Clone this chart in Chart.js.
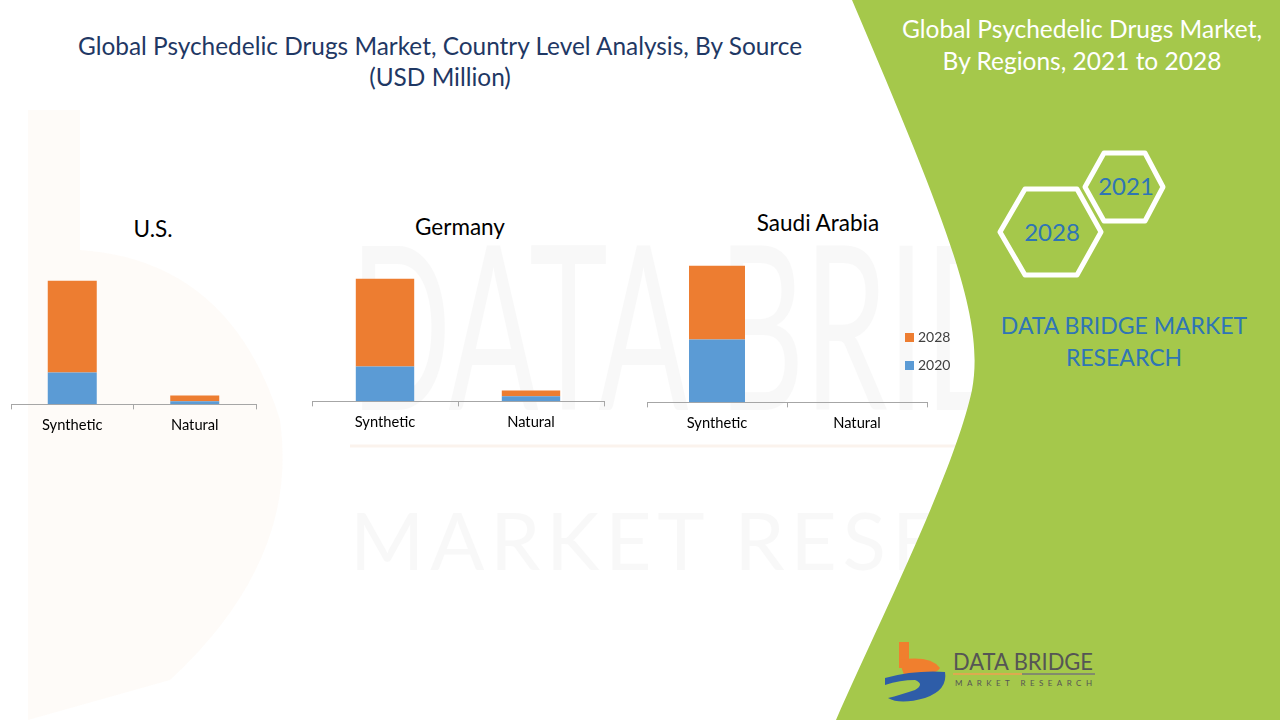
<!DOCTYPE html>
<html>
<head>
<meta charset="utf-8">
<script src="https://cdn.jsdelivr.net/npm/chart.js@4.4.1/dist/chart.umd.min.js"></script>
<style>
  html,body{margin:0;padding:0;}
  body{width:1280px;height:720px;position:relative;overflow:hidden;background:#fff;font-family:Lato,"Open Sans",sans-serif;}
  .abs{position:absolute;}
  .ctitle{position:absolute;font-size:22.5px;color:#000;transform:translate(-50%,-50%);white-space:nowrap;}
  canvas{position:absolute;}
</style>
</head>
<body>
<script>
// ---- data ----
const categories = ["Synthetic", "Natural"];
const seriesLabels = ["2020", "2028"];
const countries = ["U.S.", "Germany", "Saudi Arabia"];
const us2020 = [32, 3];
const us2028 = [92, 6];
const germany2020 = [35, 5];
const germany2028 = [88, 6];
const saudi2020 = [63, 0];
const saudi2028 = [74, 0];
</script>

<!-- background decoration -->
<svg class="abs" style="left:0;top:0" width="1280" height="720">
  <!-- faint watermark -->
  <g opacity="0.035">
    <path d="M28 110 L80 110 L80 250 Q230 260 280 420 Q300 560 170 680 L28 720 Z" fill="#f08030"/>
  </g>
  <g opacity="0.022" font-family="Lato" fill="#000">
    <text x="350" y="410" font-size="230" textLength="850" lengthAdjust="spacingAndGlyphs">DATA BRIDGE</text>
    <text x="350" y="570" font-size="80" textLength="830" lengthAdjust="spacing">MARKET RESEARCH</text>
  </g>
  <line x1="350" y1="446" x2="1210" y2="446" stroke="#f0c8a8" stroke-width="3" opacity="0.2"/>
  <!-- green panel -->
  <path d="M852 0 L1280 0 L1280 720 L836 720 C880 620 955 470 972 390 C985 320 950 230 852 0 Z" fill="#a5c84b"/>
  <!-- hexagons -->
  <polygon points="1000,232 1025,189 1077,189 1101,232 1077,275 1025,275" fill="none" stroke="#fff" stroke-width="5" stroke-linejoin="round"/>
  <polygon points="1085,187 1104,153 1145,153 1163,187 1145,221 1104,221" fill="none" stroke="#fff" stroke-width="5" stroke-linejoin="round"/>
  <text x="1052" y="241" font-family="Lato" font-size="24" fill="#2f75b5" text-anchor="middle">2028</text>
  <text x="1126" y="195" font-family="Lato" font-size="24" fill="#2f75b5" text-anchor="middle">2021</text>
  <text x="1124" y="334" font-family="Lato" font-size="23" fill="#2f75b5" text-anchor="middle">DATA BRIDGE MARKET</text>
  <text x="1124" y="366" font-family="Lato" font-size="23" fill="#2f75b5" text-anchor="middle">RESEARCH</text>
  <text x="1082" y="38" font-family="Lato" font-size="24.5" fill="#fff" text-anchor="middle">Global Psychedelic Drugs Market,</text>
  <text x="1082" y="70" font-family="Lato" font-size="24.5" fill="#fff" text-anchor="middle">By Regions, 2021 to 2028</text>
  <!-- logo -->
  <rect x="899" y="642" width="10" height="26" fill="#f07f2e"/>
  <path d="M899 660 Q930 655 940 668 Q935 676 905 678 Z" fill="#f07f2e"/>
  <path d="M885 678 Q915 670 945 672 Q948 690 925 698 Q900 705 888 698 Q900 695 915 690 Q925 684 915 680 Q900 680 885 685 Z" fill="#2e5da8"/>
  <text x="953" y="670" font-family="Lato" font-size="23" fill="#555" textLength="140" lengthAdjust="spacingAndGlyphs">DATA BRIDGE</text>
  <line x1="953" y1="674" x2="1022" y2="674" stroke="#f0a050" stroke-width="1.5"/>
  <line x1="1022" y1="674" x2="1095" y2="674" stroke="#777" stroke-width="1.5"/>
  <text x="955" y="686" font-family="Lato" font-size="8" fill="#555" textLength="137" lengthAdjust="spacing">MARKET RESEARCH</text>
</svg>

<div class="ctitle" style="left:440px;top:45px;font-size:24.4px;color:#1f3864;">Global Psychedelic Drugs Market, Country Level Analysis, By Source</div>
<div class="ctitle" style="left:440px;top:76px;font-size:24.4px;color:#1f3864;">(USD Million)</div>

<div class="ctitle" id="t0" style="left:153px;top:228px;"></div>
<div class="ctitle" id="t1" style="left:460px;top:226px;"></div>
<div class="ctitle" id="t2" style="left:818px;top:222px;"></div>

<canvas id="c0"></canvas>
<canvas id="c1"></canvas>
<canvas id="c2"></canvas>

<!-- legend -->
<div class="abs" style="left:905px;top:330px;font-size:14px;color:#404040;line-height:14px;">
  <span style="display:inline-block;width:9px;height:9px;background:#ed7d31;margin-right:4px;"></span><span id="lg1"></span>
</div>
<div class="abs" style="left:905px;top:358px;font-size:14px;color:#404040;line-height:14px;">
  <span style="display:inline-block;width:9px;height:9px;background:#5b9bd5;margin-right:4px;"></span><span id="lg0"></span>
</div>

<script>
document.getElementById('t0').textContent = countries[0];
document.getElementById('t1').textContent = countries[1];
document.getElementById('t2').textContent = countries[2];
document.getElementById('lg0').textContent = seriesLabels[0];
document.getElementById('lg1').textContent = seriesLabels[1];

const BLUE = '#5b9bd5', ORANGE = '#ed7d31', AXIS = '#a6a6a6';
const AXH = 36; // x-axis area height
function makeChart(id, left, right, top, axisY, yMax, d2020, d2028){
  const c = document.getElementById(id);
  const w = right - left + 4, h = axisY - top + AXH;
  c.width = w; c.height = h;
  c.style.left = (left - 2) + 'px'; c.style.top = top + 'px';
  c.style.width = w + 'px'; c.style.height = h + 'px';
  new Chart(c, {
    type: 'bar',
    data: {
      labels: categories,
      datasets: [
        {label: seriesLabels[0], data: d2020, backgroundColor: BLUE, borderWidth: 0},
        {label: seriesLabels[1], data: d2028, backgroundColor: ORANGE, borderWidth: 0}
      ]
    },
    options: {
      responsive: false, animation: false, devicePixelRatio: 1,
      layout: {padding: {left: 2, right: 2, top: 0, bottom: 0}},
      datasets: {bar: {categoryPercentage: 1.0, barPercentage: 0.4}},
      plugins: {legend: {display: false}, tooltip: {enabled: false}, title: {display: false}},
      scales: {
        x: {
          stacked: true,
          border: {display: true, color: AXIS, width: 1},
          grid: {display: true, offset: true, drawOnChartArea: false, drawTicks: true, tickLength: 5, color: AXIS},
          ticks: {color: '#000', padding: 7, font: {family: 'Lato', size: 14.7}, maxRotation: 0}
        },
        y: {stacked: true, display: false, min: 0, max: yMax}
      }
    }
  });
}
makeChart('c0', 11, 256, 140, 405, 265, us2020, us2028);
makeChart('c1', 312, 604, 140, 402, 262, germany2020, germany2028);
makeChart('c2', 647, 927, 140, 403, 263, saudi2020, saudi2028);
</script>
</body>
</html>
